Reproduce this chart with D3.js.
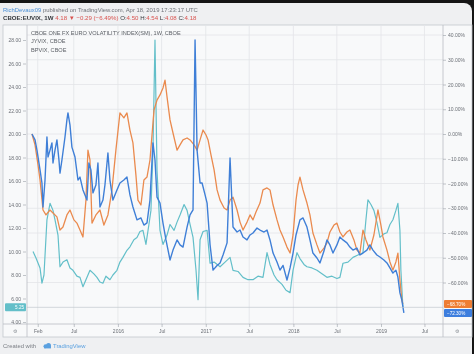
<!DOCTYPE html>
<html>
<head>
<meta charset="utf-8">
<script src="https://cdn.jsdelivr.net/npm/d3@7"></script>
<style>
    body { margin: 0; background: #151515; }
    svg { display: block; font-family: "Liberation Sans", Arial, sans-serif; filter: blur(0.3px); }
    .axis text { fill: #6b6f76; font-size: 5px; }
    .axis line { stroke: #9aa0a8; stroke-width: 0.6; }
    .axis path { display: none; }
</style>
</head>
<body>
<svg id="chart" width="474" height="354"></svg>
<script>
/* global d3 : false */

// weekly closes, time as decimal year
const euvix = [[2015.031,10.0],[2015.065,9.45],[2015.111,8.6],[2015.133,7.3],[2015.156,8.0],[2015.190,12.7],[2015.225,14.1],[2015.259,13.5],[2015.282,12.7],[2015.316,11.4],[2015.339,8.7],[2015.373,9.1],[2015.418,9.3],[2015.453,8.6],[2015.487,8.4],[2015.532,7.9],[2015.567,7.8],[2015.601,7.0],[2015.635,7.6],[2015.681,8.4],[2015.726,8.1],[2015.761,7.8],[2015.795,7.4],[2015.829,7.3],[2015.863,7.9],[2015.909,7.6],[2015.943,8.0],[2015.989,8.4],[2016.023,9.1],[2016.057,9.5],[2016.103,10.1],[2016.137,10.4],[2016.182,11.0],[2016.217,11.2],[2016.251,11.7],[2016.285,11.8],[2016.319,10.6],[2016.353,12.3],[2016.376,13.5],[2016.399,18.6],[2016.422,28.0],[2016.445,16.9],[2016.479,11.8],[2016.513,10.6],[2016.559,11.4],[2016.593,12.3],[2016.639,11.8],[2016.673,12.5],[2016.707,13.1],[2016.753,14.0],[2016.787,13.5],[2016.821,12.3],[2016.855,11.2],[2016.889,8.4],[2016.912,5.9],[2016.935,11.0],[2016.969,11.7],[2017.015,11.8],[2017.049,9.0],[2017.095,9.1],[2017.163,8.7],[2017.220,9.1],[2017.277,9.5],[2017.311,8.4],[2017.368,8.3],[2017.425,7.8],[2017.482,7.6],[2017.539,7.6],[2017.596,7.9],[2017.653,7.8],[2017.699,9.9],[2017.733,8.9],[2017.779,8.0],[2017.813,7.6],[2017.870,7.2],[2017.916,6.7],[2017.962,6.5],[2017.996,8.4],[2018.041,9.9],[2018.075,9.4],[2018.121,8.9],[2018.155,8.7],[2018.212,8.6],[2018.269,8.4],[2018.326,8.1],[2018.383,7.8],[2018.440,7.9],[2018.497,7.7],[2018.531,7.8],[2018.566,9.0],[2018.623,9.1],[2018.680,9.5],[2018.737,9.7],[2018.794,9.9],[2018.828,12.7],[2018.851,14.4],[2018.885,14.0],[2018.919,13.5],[2018.953,12.5],[2018.988,11.2],[2019.033,11.5],[2019.068,11.6],[2019.102,12.3],[2019.136,12.7],[2019.170,13.5],[2019.193,14.1],[2019.216,11.8],[2019.227,8.4],[2019.250,5.25]];

// compare series, % change from first bar
const jyvix = [[2015.019,0],[2015.054,-4.4],[2015.088,-12.5],[2015.111,-18.6],[2015.145,-30.7],[2015.179,-32.7],[2015.225,-30.7],[2015.259,-31.9],[2015.304,-33.5],[2015.339,-38.8],[2015.373,-37.6],[2015.418,-32.7],[2015.453,-30.7],[2015.498,-34.7],[2015.532,-36.0],[2015.567,-38.8],[2015.601,-41.6],[2015.635,-26.7],[2015.658,-6.5],[2015.681,-10.5],[2015.704,-36.0],[2015.749,-32.7],[2015.795,-30.7],[2015.840,-36.8],[2015.886,-32.7],[2015.932,-22.6],[2015.977,-6.5],[2016.023,8.5],[2016.068,6.5],[2016.103,8.5],[2016.137,1.6],[2016.171,-3.6],[2016.205,-16.6],[2016.228,-26.7],[2016.262,-28.7],[2016.296,-18.6],[2016.331,-17.4],[2016.365,-10.5],[2016.411,9.7],[2016.445,13.7],[2016.479,15.8],[2016.513,18.6],[2016.536,21.8],[2016.559,15.0],[2016.593,5.7],[2016.627,0.4],[2016.673,-6.5],[2016.707,-4.4],[2016.741,-2.4],[2016.787,-1.6],[2016.821,-2.4],[2016.867,-4.4],[2016.901,-6.5],[2016.935,-2.4],[2016.969,1.6],[2017.003,-0.4],[2017.026,-2.4],[2017.060,-8.5],[2017.095,-14.5],[2017.129,-22.6],[2017.163,-26.7],[2017.209,-29.9],[2017.243,-30.7],[2017.277,-26.7],[2017.311,-25.5],[2017.357,-30.7],[2017.391,-35.6],[2017.425,-38.8],[2017.471,-35.6],[2017.505,-32.7],[2017.539,-34.7],[2017.573,-31.5],[2017.619,-27.9],[2017.653,-22.6],[2017.699,-21.8],[2017.733,-22.6],[2017.768,-28.7],[2017.813,-34.7],[2017.847,-38.8],[2017.882,-41.6],[2017.927,-45.7],[2017.962,-48.1],[2017.996,-40.8],[2018.030,-26.7],[2018.053,-20.6],[2018.075,-17.4],[2018.110,-22.6],[2018.155,-27.9],[2018.189,-32.7],[2018.223,-40.0],[2018.269,-44.8],[2018.303,-48.1],[2018.349,-46.1],[2018.383,-44.0],[2018.417,-39.6],[2018.463,-36.8],[2018.497,-36.0],[2018.531,-39.6],[2018.566,-41.6],[2018.611,-39.6],[2018.645,-38.8],[2018.691,-42.8],[2018.725,-46.9],[2018.759,-48.1],[2018.794,-38.8],[2018.828,-42.8],[2018.873,-46.9],[2018.919,-40.8],[2018.965,-30.7],[2018.999,-36.8],[2019.022,-41.6],[2019.068,-46.9],[2019.102,-51.7],[2019.136,-55.0],[2019.170,-51.7],[2019.193,-48.1],[2019.216,-59.0],[2019.238,-67.1],[2019.250,-68.7]];

const bpvix = [[2015.019,0],[2015.054,-2.4],[2015.076,-6.5],[2015.111,-14.5],[2015.133,-19.8],[2015.145,-29.5],[2015.168,-18.6],[2015.190,-1.2],[2015.202,-9.3],[2015.225,-6.5],[2015.247,-3.6],[2015.259,-11.7],[2015.282,-6.5],[2015.304,-2.4],[2015.327,-10.5],[2015.339,-15.8],[2015.361,-10.5],[2015.396,-1.2],[2015.418,5.7],[2015.430,8.5],[2015.453,3.6],[2015.475,-5.3],[2015.510,-9.3],[2015.544,-18.6],[2015.567,-17.4],[2015.601,-22.6],[2015.647,-26.7],[2015.669,-11.7],[2015.692,-14.5],[2015.715,-23.8],[2015.749,-20.6],[2015.772,-11.7],[2015.795,-29.5],[2015.829,-26.7],[2015.852,-20.6],[2015.886,-7.7],[2015.909,-18.6],[2015.943,-26.7],[2015.989,-22.6],[2016.023,-19.8],[2016.068,-18.6],[2016.103,-17.4],[2016.137,-24.6],[2016.171,-29.5],[2016.217,-34.7],[2016.262,-33.9],[2016.296,-36.8],[2016.331,-35.9],[2016.365,-26.7],[2016.399,-3.6],[2016.422,-10.5],[2016.445,-25.5],[2016.479,-27.9],[2016.513,-36.0],[2016.547,-42.8],[2016.593,-50.9],[2016.627,-46.9],[2016.673,-42.8],[2016.707,-44.8],[2016.741,-45.7],[2016.787,-37.6],[2016.821,-32.7],[2016.855,-30.7],[2016.878,38.0],[2016.901,-6.5],[2016.935,-19.8],[2016.958,-19.8],[2016.992,-24.6],[2017.015,-27.9],[2017.049,-44.8],[2017.083,-55.0],[2017.129,-53.1],[2017.163,-52.1],[2017.197,-48.9],[2017.243,-44.0],[2017.277,-9.7],[2017.311,-37.6],[2017.357,-39.6],[2017.391,-38.8],[2017.425,-41.6],[2017.471,-42.8],[2017.505,-40.8],[2017.539,-40.0],[2017.585,-38.0],[2017.619,-38.8],[2017.665,-39.6],[2017.699,-38.8],[2017.733,-42.8],[2017.768,-48.1],[2017.813,-51.7],[2017.847,-55.0],[2017.882,-53.1],[2017.927,-59.0],[2017.962,-54.1],[2017.996,-48.1],[2018.030,-40.8],[2018.075,-34.7],[2018.110,-33.9],[2018.155,-37.6],[2018.189,-42.8],[2018.223,-48.1],[2018.269,-50.1],[2018.303,-52.1],[2018.349,-47.3],[2018.383,-42.8],[2018.417,-44.8],[2018.452,-48.1],[2018.497,-44.8],[2018.531,-41.6],[2018.566,-42.8],[2018.611,-44.0],[2018.645,-45.7],[2018.680,-46.9],[2018.725,-46.1],[2018.759,-48.9],[2018.794,-48.1],[2018.839,-46.9],[2018.873,-44.8],[2018.908,-46.9],[2018.953,-48.9],[2018.988,-49.7],[2019.033,-50.9],[2019.068,-52.1],[2019.102,-54.1],[2019.136,-56.2],[2019.170,-55.0],[2019.193,-57.8],[2019.216,-64.2],[2019.238,-67.1],[2019.261,-72.3]];

const priceTicks = [4, 6, 8, 10, 12, 14, 16, 18, 20, 22, 24, 26, 28];
const percentTicks = [40, 30, 20, 10, 0, -10, -20, -30, -40, -50, -60];
const timeTicks = [2015.085, 2015.496, 2016, 2016.497, 2017, 2017.496, 2018, 2018.496, 2019, 2019.496];
const timeLabels = ["Feb", "Jul", "2016", "Jul", "2017", "Jul", "2018", "Jul", "2019", "Jul"];
const legendNames = ["CBOE ONE FX EURO VOLATILITY INDEX(SM), 1W, CBOE", "JYVIX, CBOE", "BPVIX, CBOE"];

const colors = { euvix: "#63bfc9", jyvix: "#ea8a4e", bpvix: "#3f7fd7" };

const toDate = yr => {
    const y = Math.floor(yr);
    const a = Date.UTC(y, 0, 1), b = Date.UTC(y + 1, 0, 1);
    return new Date(a + (yr - y) * (b - a));
};

const frame = { left: 3, right: 472, top: 25, bottom: 337 };
const plot = { left: 27, right: 443, top: 25, bottom: 324 };

const x = d3.scaleUtc()
    .domain([toDate(2015), toDate(2019)])
    .range([30.3, 381]);
const yPrice = d3.scaleLinear().domain([20, 28]).range([134, 40]);
const yPct = d3.scaleLinear().domain([0, 40]).range([134, 35]);

const svg = d3.select("#chart");

// card on dark backdrop
svg.append("rect").attr("width", 474).attr("height", 354).attr("fill", "#151515");
svg.append("rect")
    .attr("x", -10).attr("y", 3).attr("width", 482).attr("height", 380).attr("rx", 8)
    .attr("fill", "#eff0f2");

// header
const head1 = svg.append("text").attr("x", 3).attr("y", 11.5).attr("font-size", 5.9).attr("fill", "#6f7379");
head1.append("tspan").attr("fill", "#4a8fd6").text("RichDevaux09");
head1.append("tspan").text(" published on TradingView.com, Apr 18, 2019 17:23:17 UTC");

const head2 = svg.append("text").attr("x", 3).attr("y", 19.8).attr("font-size", 6.1).attr("fill", "#d9534f");
head2.append("tspan").attr("fill", "#33363b").attr("font-weight", "bold").text("CBOE:EUVIX, 1W ");
head2.append("tspan").text("4.18 \u25BC \u22120.29 (\u22126.49%) ");
head2.append("tspan").attr("fill", "#33363b").text("O:");
head2.append("tspan").text("4.50 ");
head2.append("tspan").attr("fill", "#33363b").text("H:");
head2.append("tspan").text("4.54 ");
head2.append("tspan").attr("fill", "#33363b").text("L:");
head2.append("tspan").text("4.08 ");
head2.append("tspan").attr("fill", "#33363b").text("C:");
head2.append("tspan").text("4.18");

// chart frame
svg.append("rect")
    .attr("x", frame.left).attr("y", frame.top)
    .attr("width", frame.right - frame.left).attr("height", frame.bottom - frame.top)
    .attr("fill", "#f8f9fa").attr("stroke", "#c4c8cd").attr("stroke-width", 0.8);

svg.append("defs").append("clipPath").attr("id", "plot-clip")
    .append("rect")
    .attr("x", plot.left).attr("y", plot.top)
    .attr("width", plot.right - plot.left).attr("height", plot.bottom - plot.top);

// grid
const grid = svg.append("g").attr("stroke", "#e3e5e9").attr("stroke-width", 0.8);
grid.selectAll("line.h").data(percentTicks).join("line")
    .attr("x1", plot.left).attr("x2", plot.right)
    .attr("y1", d => yPct(d)).attr("y2", d => yPct(d));
grid.selectAll("line.v").data(timeTicks).join("line")
    .attr("x1", d => x(toDate(d))).attr("x2", d => x(toDate(d)))
    .attr("y1", plot.top).attr("y2", plot.bottom);

// series
const lines = svg.append("g").attr("clip-path", "url(#plot-clip)").attr("fill", "none")
    .attr("stroke-linejoin", "round");

const pctLine = d3.line().x(d => x(toDate(d[0]))).y(d => yPct(d[1]));
const priceLine = d3.line().x(d => x(toDate(d[0]))).y(d => yPrice(d[1]));

lines.append("path").datum(euvix).attr("d", priceLine)
    .attr("stroke", colors.euvix).attr("stroke-width", 1.2);
lines.append("path").datum(jyvix).attr("d", pctLine)
    .attr("stroke", colors.jyvix).attr("stroke-width", 1.3);
lines.append("path").datum(bpvix).attr("d", pctLine)
    .attr("stroke", colors.bpvix).attr("stroke-width", 1.4);

// last price line of main series
const lastMain = euvix[euvix.length - 1][1];
svg.append("line")
    .attr("x1", plot.left).attr("x2", plot.right)
    .attr("y1", yPrice(lastMain)).attr("y2", yPrice(lastMain))
    .attr("stroke", "#c2c9cf").attr("stroke-width", 0.7);

// legend
svg.append("g").selectAll("text").data(legendNames).join("text")
    .attr("x", 31).attr("y", (d, i) => 35 + i * 8.4)
    .attr("font-size", 5.6).attr("fill", "#5d6167")
    .text(d => d);

// axes frame lines
const frameLines = svg.append("g").attr("stroke", "#b9bdc3").attr("stroke-width", 0.8);
frameLines.append("line").attr("x1", plot.left).attr("x2", plot.left).attr("y1", frame.top).attr("y2", frame.bottom);
frameLines.append("line").attr("x1", plot.right).attr("x2", plot.right).attr("y1", frame.top).attr("y2", frame.bottom);
frameLines.append("line").attr("x1", frame.left).attr("x2", frame.right).attr("y1", plot.bottom).attr("y2", plot.bottom);

svg.append("g").attr("class", "axis")
    .attr("transform", `translate(${plot.left - 1},0)`)
    .call(d3.axisLeft(yPrice).tickValues(priceTicks).tickFormat(d3.format(".2f")).tickSize(3).tickPadding(2));

svg.append("g").attr("class", "axis")
    .attr("transform", `translate(${plot.right},0)`)
    .call(d3.axisRight(yPct).tickValues(percentTicks)
        .tickFormat(d => (d < 0 ? "\u2212" : "") + Math.abs(d).toFixed(2) + "%")
        .tickSize(3).tickPadding(2));

svg.append("g").attr("class", "axis")
    .attr("transform", `translate(0,${plot.bottom})`)
    .call(d3.axisBottom(x).tickValues(timeTicks.map(toDate))
        .tickFormat((d, i) => timeLabels[i]).tickSize(3).tickPadding(2));

// corner glyphs
svg.append("text").attr("x", 15).attr("y", 333).attr("text-anchor", "middle")
    .attr("font-size", 5).attr("fill", "#8b9097").text("\u2699");
svg.append("text").attr("x", 457).attr("y", 333).attr("text-anchor", "middle")
    .attr("font-size", 5).attr("fill", "#8b9097").text("\u2699");

// value tags
const tag = (xPos, yPos, w, fill, label, anchor) => {
    const g = svg.append("g");
    g.append("rect").attr("x", xPos).attr("y", yPos - 4).attr("width", w).attr("height", 8)
        .attr("rx", 1).attr("fill", fill);
    g.append("text").attr("x", anchor === "end" ? xPos + w - 2 : xPos + 3).attr("y", yPos + 1.7)
        .attr("text-anchor", anchor).attr("font-size", 4.6).attr("fill", "#fff").text(label);
};

tag(5, yPrice(lastMain), 21, colors.euvix, lastMain.toFixed(2), "end");

const fmtPct = v => (v < 0 ? "\u2212" : "") + Math.abs(v).toFixed(2) + "%";
const lastJy = jyvix[jyvix.length - 1][1];
const lastBp = bpvix[bpvix.length - 1][1];
let yJy = yPct(lastJy), yBp = yPct(lastBp);
if (yBp - yJy < 8.5) yBp = yJy + 8.5;
tag(plot.right + 1, yJy, 28, "#ee7d33", fmtPct(lastJy), "start");
tag(plot.right + 1, yBp, 28, "#3d7ede", fmtPct(lastBp), "start");

// footer
const foot = svg.append("g");
foot.append("text").attr("x", 3).attr("y", 348).attr("font-size", 5.9).attr("fill", "#7a7e84").text("Created with");
foot.append("circle").attr("cx", 45.5).attr("cy", 346.2).attr("r", 2).attr("fill", "#5aa0e0");
foot.append("circle").attr("cx", 48.5).attr("cy", 345.6).attr("r", 2.5).attr("fill", "#5aa0e0");
foot.append("rect").attr("x", 44).attr("y", 346).attr("width", 7).attr("height", 2.4).attr("fill", "#5aa0e0");
foot.append("text").attr("x", 53).attr("y", 348).attr("font-size", 5.9).attr("fill", "#5aa0e0").text("TradingView");
</script>
</body>
</html>
